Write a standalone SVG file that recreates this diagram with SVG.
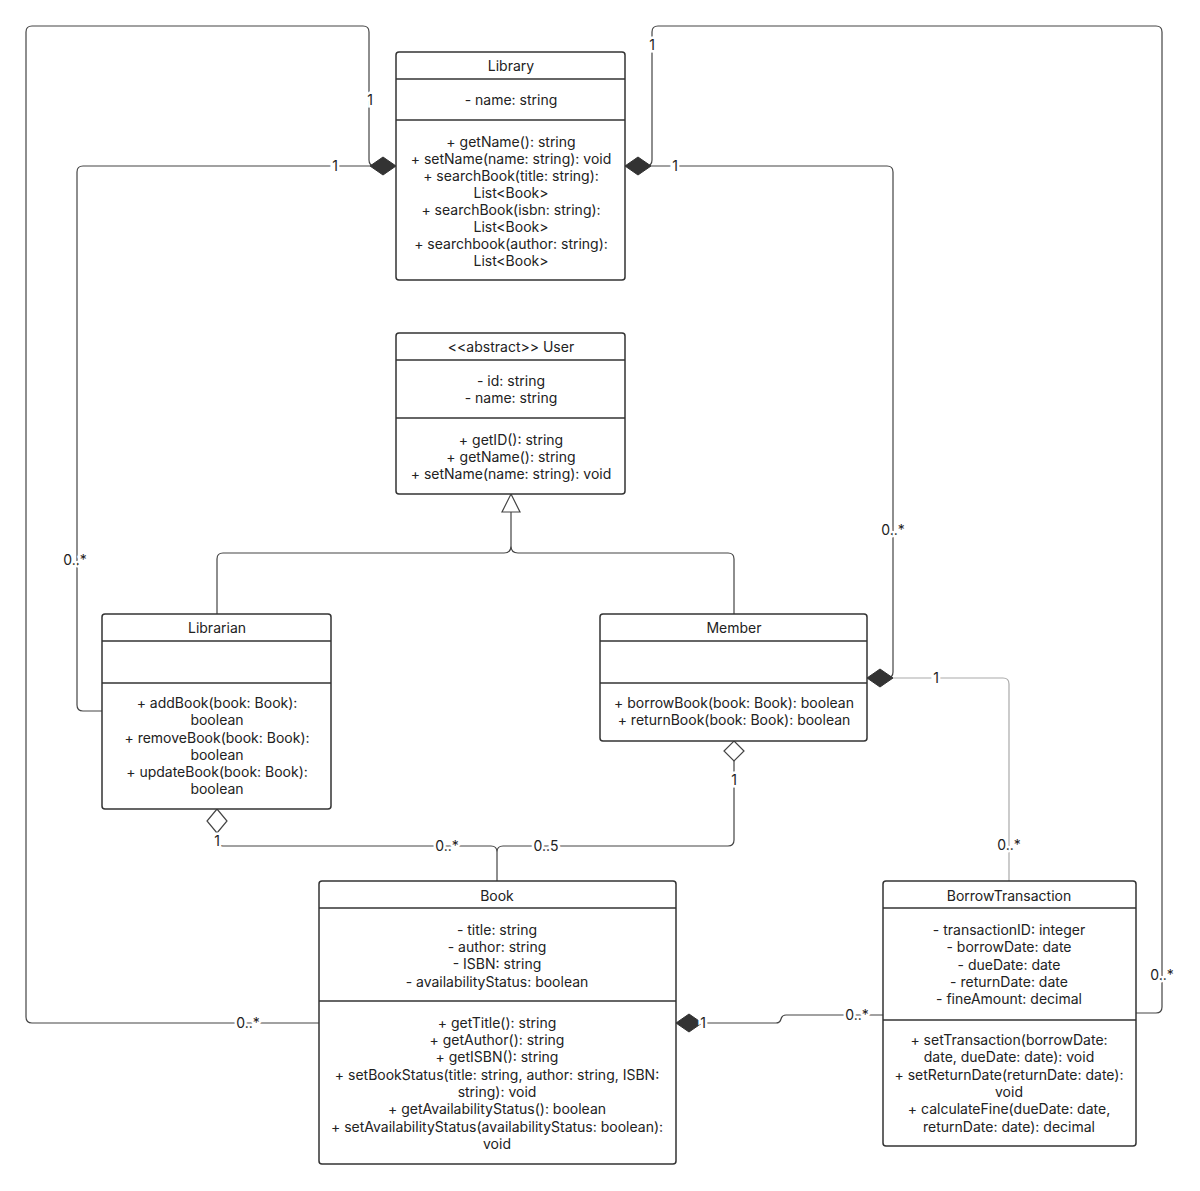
<svg xmlns="http://www.w3.org/2000/svg" width="1200" height="1191" viewBox="0 0 1200 1191">
<style>
.box{fill:#fff;stroke:#333;stroke-width:1.5}
.sep{stroke:#333;stroke-width:1.3}
text{font-family:Inter,"Liberation Sans",sans-serif;font-size:14px;fill:#222;text-anchor:middle}
.c{fill:none;stroke:#444;stroke-width:1.2}
.lt{fill:none;stroke:#aaa;stroke-width:1.2}
.lb{paint-order:stroke;stroke:#fff;stroke-width:5px}
.fd{fill:#333;stroke:#333}
.hd{fill:#fff;stroke:#444;stroke-width:1.2}
</style>
<rect width="1200" height="1191" fill="#fff"/>
<g id="connectors">
<path class="c" d="M319,1023 H32 Q26,1023 26,1017 V32 Q26,26 32,26 H363 Q369,26 369,32 V160 Q369,166 375,166"/>
<path class="c" d="M102,711 H83 Q77,711 77,705 V172 Q77,166 83,166 H370"/>
<path class="c" d="M1136,1013 H1156 Q1162,1013 1162,1007 V32 Q1162,26 1156,26 H658 Q652,26 652,32 V160 Q652,166 646,166"/>
<path class="c" d="M651,166 H887 Q893,166 893,172 V672 Q893,678 887,678"/>
<path class="lt" d="M893,678 H1003 Q1009,678 1009,684 V881"/>
<path class="c" d="M511,512 V546 Q511,553 504,553 H223 Q217,553 217,559 V614 M511,546 Q511,553 518,553 H728 Q734,553 734,559 V614"/>
<path class="c" d="M217,833 V840 Q217,846 223,846 H491 Q497,846 497,852 V881 M497,852 Q497,846 503,846 H728 Q734,846 734,840 V761"/>
<path class="c" d="M702,1023 H776 Q780,1023 781,1019 Q782,1015 786,1015 H883"/>
<polygon class="fd" points="370,166 383,157 396,166 383,175"/>
<polygon class="fd" points="625,166 638,157 651,166 638,175"/>
<polygon class="fd" points="867,678 880,669 893,678 880,687"/>
<polygon class="fd" points="676,1023 689,1014 702,1023 689,1032"/>
<polygon class="hd" points="217,809 227,821 217,833 207,821"/>
<polygon class="hd" points="734,741 744,751 734,761 724,751"/>
<polygon class="hd" points="511,494 520,512 502,512"/>
<text class="lb" x="370" y="105">1</text>
<text class="lb" x="335" y="171">1</text>
<text class="lb" x="652" y="50">1</text>
<text class="lb" x="675" y="171">1</text>
<text class="lb" x="248" y="1028">0..*</text>
<text class="lb" x="75" y="565">0..*</text>
<text class="lb" x="1162" y="980">0..*</text>
<text class="lb" x="893" y="535">0..*</text>
<text class="lb" x="936" y="683">1</text>
<text class="lb" x="1009" y="850">0..*</text>
<text class="lb" x="217" y="846">1</text>
<text class="lb" x="447" y="851">0..*</text>
<text class="lb" x="734" y="785">1</text>
<text class="lb" x="546" y="851">0..5</text>
<text class="lb" x="703" y="1028">1</text>
<text class="lb" x="857" y="1020">0..*</text>
</g>
<g id="library">
<rect class="box" x="396" y="52" width="229" height="228" rx="3"/>
<line class="sep" x1="396" y1="79" x2="625" y2="79"/><line class="sep" x1="396" y1="120" x2="625" y2="120"/>
<text x="511" y="71">Library</text>
<text x="511" y="105">- name: string</text>
<text x="511" y="147">+ getName(): string</text>
<text x="511" y="164">+ setName(name: string): void</text>
<text x="511" y="181">+ searchBook(title: string):</text>
<text x="511" y="198">List&lt;Book&gt;</text>
<text x="511" y="215">+ searchBook(isbn: string):</text>
<text x="511" y="232">List&lt;Book&gt;</text>
<text x="511" y="249">+ searchbook(author: string):</text>
<text x="511" y="266">List&lt;Book&gt;</text>
</g>
<g id="user">
<rect class="box" x="396" y="333" width="229" height="161" rx="3"/>
<line class="sep" x1="396" y1="360" x2="625" y2="360"/><line class="sep" x1="396" y1="418" x2="625" y2="418"/>
<text x="511" y="352">&lt;&lt;abstract&gt;&gt; User</text>
<text x="511" y="386">- id: string</text>
<text x="511" y="403">- name: string</text>
<text x="511" y="445">+ getID(): string</text>
<text x="511" y="462">+ getName(): string</text>
<text x="511" y="479">+ setName(name: string): void</text>
</g>
<g id="librarian">
<rect class="box" x="102" y="614" width="229" height="195" rx="3"/>
<line class="sep" x1="102" y1="641" x2="331" y2="641"/><line class="sep" x1="102" y1="683" x2="331" y2="683"/>
<text x="217" y="633">Librarian</text>
<text x="217" y="708">+ addBook(book: Book):</text>
<text x="217" y="725">boolean</text>
<text x="217" y="743">+ removeBook(book: Book):</text>
<text x="217" y="760">boolean</text>
<text x="217" y="777">+ updateBook(book: Book):</text>
<text x="217" y="794">boolean</text>
</g>
<g id="member">
<rect class="box" x="600" y="614" width="267" height="127" rx="3"/>
<line class="sep" x1="600" y1="641" x2="867" y2="641"/><line class="sep" x1="600" y1="683" x2="867" y2="683"/>
<text x="734" y="633">Member</text>
<text x="734" y="708">+ borrowBook(book: Book): boolean</text>
<text x="734" y="725">+ returnBook(book: Book): boolean</text>
</g>
<g id="book">
<rect class="box" x="319" y="881" width="357" height="283" rx="3"/>
<line class="sep" x1="319" y1="908" x2="676" y2="908"/><line class="sep" x1="319" y1="1001" x2="676" y2="1001"/>
<text x="497" y="901">Book</text>
<text x="497" y="935">- title: string</text>
<text x="497" y="952">- author: string</text>
<text x="497" y="969">- ISBN: string</text>
<text x="497" y="987">- availabilityStatus: boolean</text>
<text x="497" y="1028">+ getTitle(): string</text>
<text x="497" y="1045">+ getAuthor(): string</text>
<text x="497" y="1062">+ getISBN(): string</text>
<text x="497" y="1080">+ setBookStatus(title: string, author: string, ISBN:</text>
<text x="497" y="1097">string): void</text>
<text x="497" y="1114">+ getAvailabilityStatus(): boolean</text>
<text x="497" y="1132">+ setAvailabilityStatus(availabilityStatus: boolean):</text>
<text x="497" y="1149">void</text>
</g>
<g id="borrowtransaction">
<rect class="box" x="883" y="881" width="253" height="265" rx="3"/>
<line class="sep" x1="883" y1="908" x2="1136" y2="908"/><line class="sep" x1="883" y1="1020" x2="1136" y2="1020"/>
<text x="1009" y="901">BorrowTransaction</text>
<text x="1009" y="935">- transactionID: integer</text>
<text x="1009" y="952">- borrowDate: date</text>
<text x="1009" y="970">- dueDate: date</text>
<text x="1009" y="987">- returnDate: date</text>
<text x="1009" y="1004">- fineAmount: decimal</text>
<text x="1009" y="1045">+ setTransaction(borrowDate:</text>
<text x="1009" y="1062">date, dueDate: date): void</text>
<text x="1009" y="1080">+ setReturnDate(returnDate: date):</text>
<text x="1009" y="1097">void</text>
<text x="1009" y="1114">+ calculateFine(dueDate: date,</text>
<text x="1009" y="1132">returnDate: date): decimal</text>
</g>
</svg>
